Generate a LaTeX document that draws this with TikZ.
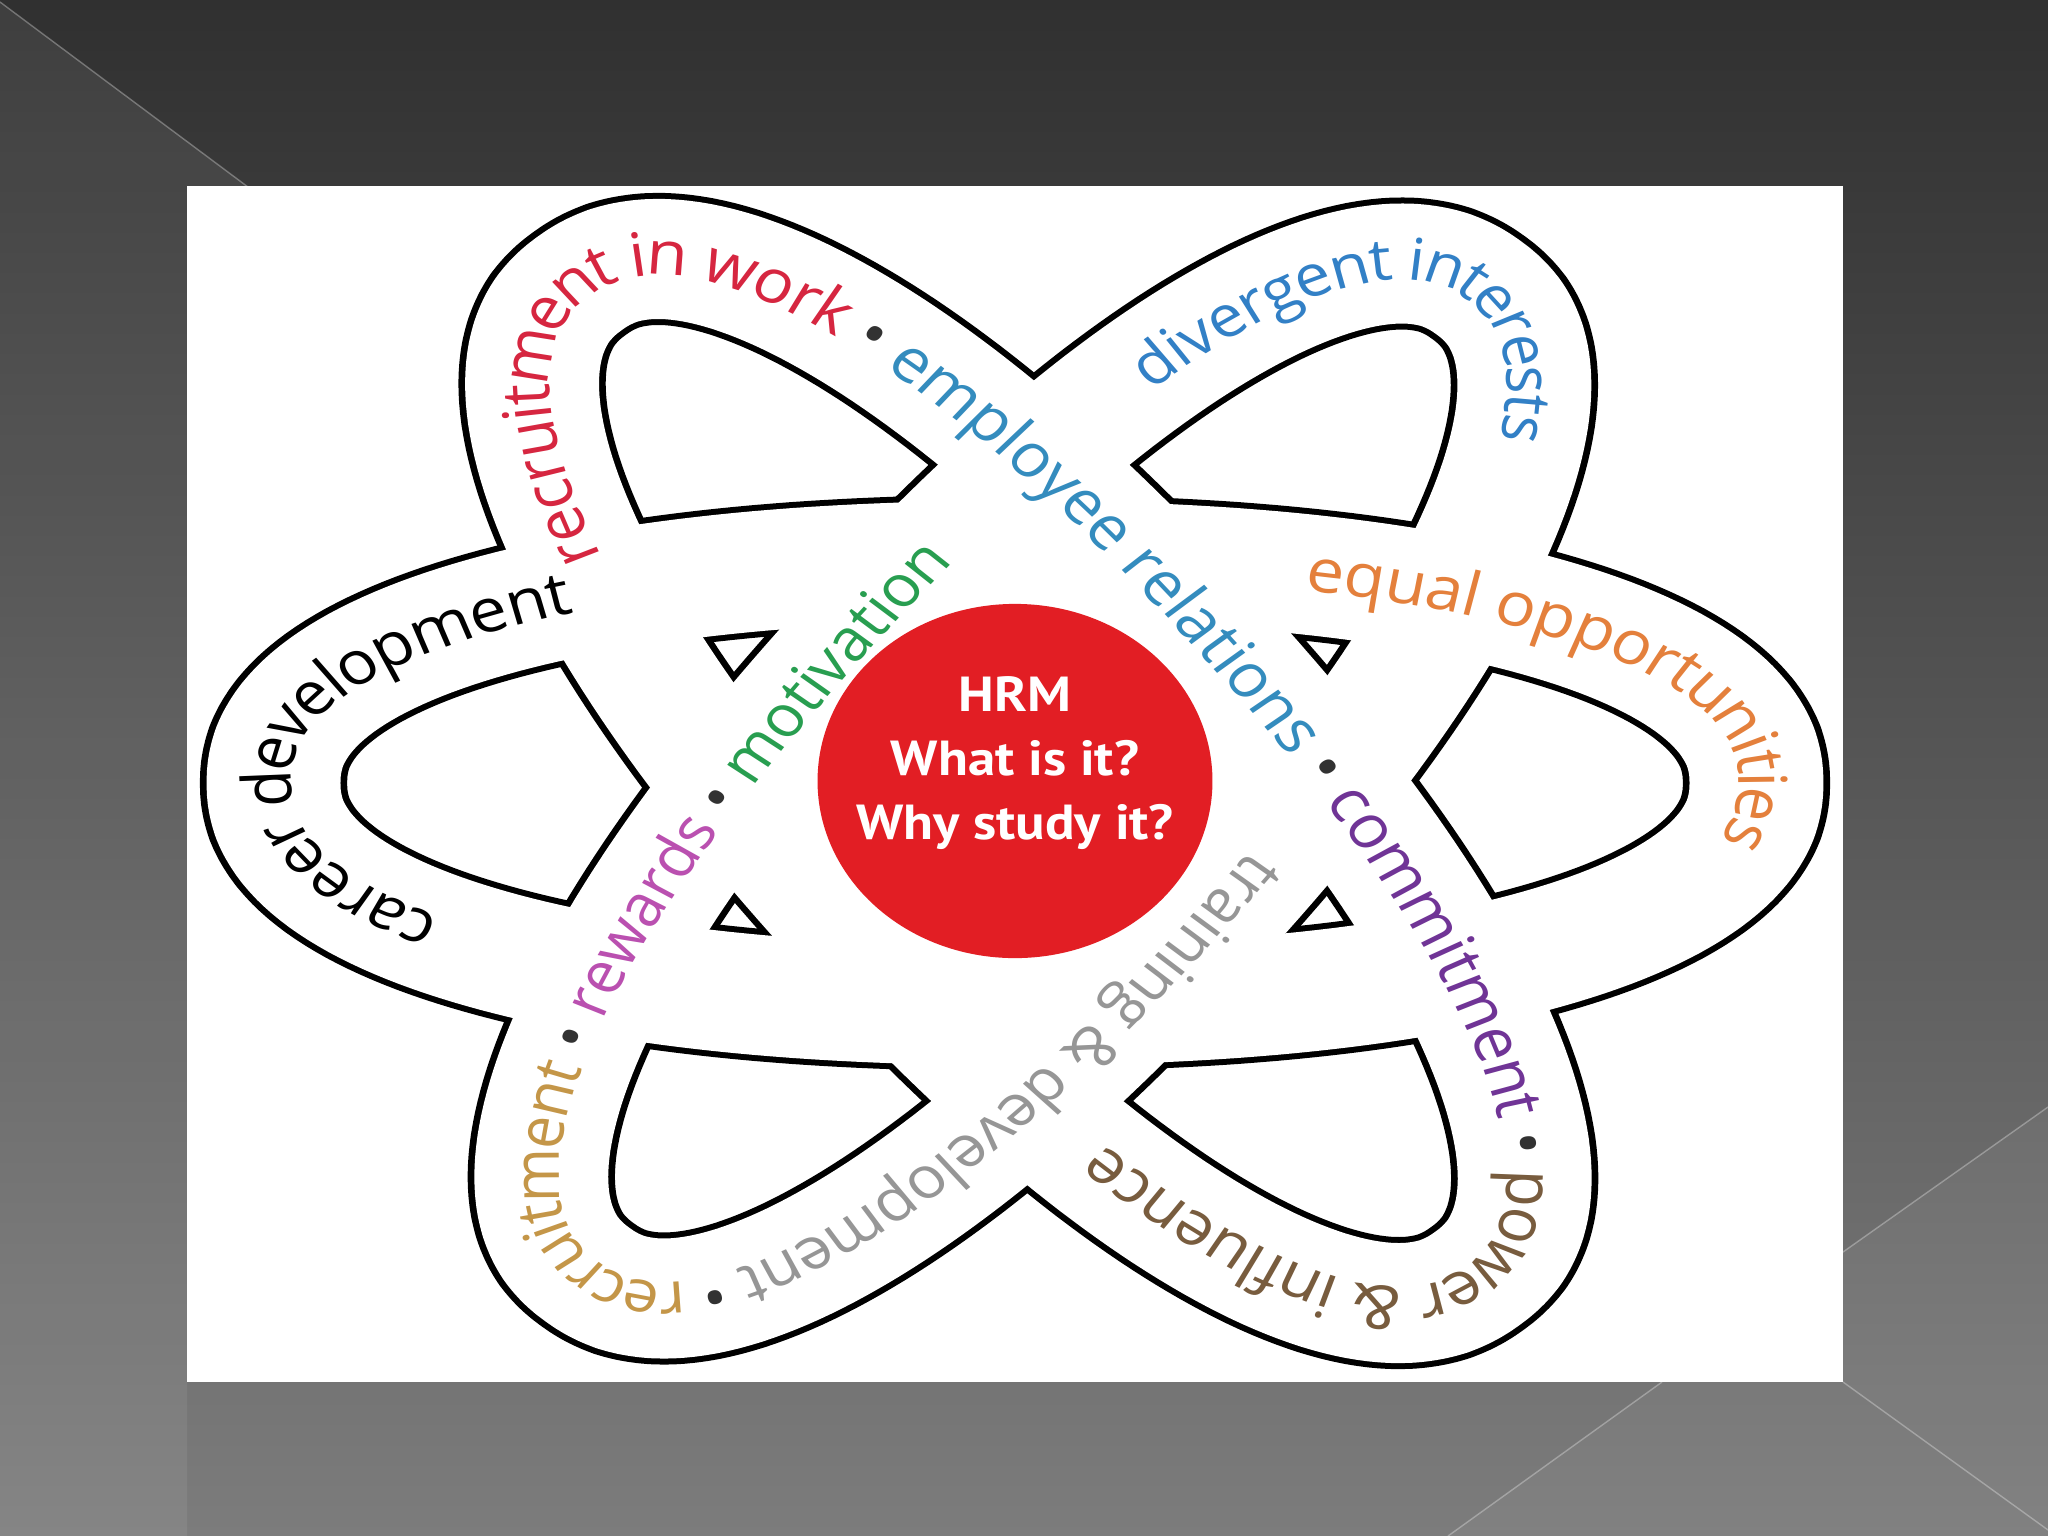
\documentclass[tikz,border=0pt]{standalone}
\usepackage{fontspec}
\setmainfont{Open Sans}
\newfontfamily\hrmfont{PT Sans}
\usetikzlibrary{decorations.text}

\definecolor{bgtop}{RGB}{48,48,48}
\definecolor{bgbottom}{RGB}{124,124,124}
\definecolor{hrmred}{RGB}{226,30,36}
\definecolor{recred}{RGB}{214,38,64}
\definecolor{empblue}{RGB}{52,140,190}
\definecolor{commpurple}{RGB}{112,52,150}
\definecolor{powbrown}{RGB}{120,92,62}
\definecolor{divblue}{RGB}{50,128,198}
\definecolor{eqorange}{RGB}{228,128,60}
\definecolor{traingray}{RGB}{150,150,150}
\definecolor{recgold}{RGB}{196,150,72}
\definecolor{rewpink}{RGB}{186,80,176}
\definecolor{motgreen}{RGB}{40,158,80}
\definecolor{dotgray}{RGB}{50,50,50}

\newcommand{\bandfont}{\fontsize{16.5}{19}\selectfont}
\newcommand{\widebandfont}{\fontsize{17.2}{20}\selectfont}

\begin{document}
\begin{tikzpicture}[x=0.01cm, y=-0.01cm,
    declare function={
      sux(\s)=sign(cos(\s))*pow(abs(cos(\s))+0.00001,0.909);
      suy(\s)=sign(sin(\s))*pow(abs(sin(\s))+0.00001,0.909);
      bandx(\s,\ha,\hb,\rr)=\ha*sux(\s)*cos(\rr)-\hb*suy(\s)*sin(\rr);
      bandy(\s,\ha,\hb,\rr)=\ha*sux(\s)*sin(\rr)+\hb*suy(\s)*cos(\rr);
    },
    band line/.style={line width=1.32cm, line join=round, draw=black},
    band fill/.style={line width=1.2cm, line join=round, draw=white},
    band text/.style={decorate, decoration={text along path, raise=-0.16cm, text={#1}}}]
  \useasboundingbox (0,0) rectangle (2048,1536);
  \shade[top color=bgtop, bottom color=bgbottom] (0,0) rectangle (2048,1536);
  \fill[white, opacity=0.07] (0,2) -- (248,187) -- (187,187) -- (187,1536) -- (0,1536) -- cycle;
  \fill[white, opacity=0.05] (1843,1252) -- (2048,1107) -- (2048,1530) -- (1843,1382) -- cycle;
  \fill[white, opacity=0.04] (1448,1536) -- (1662,1382) -- (1843,1382) -- (2048,1530) -- (2048,1536) -- cycle;
  \draw[white, opacity=0.3, line width=0.4pt] (0,2) -- (248,187) (1843,1252) -- (2048,1107)
    (1662,1382) -- (1448,1536) (1843,1382) -- (2048,1530);
  \fill[white] (187,186) rectangle (1843,1382);

  \begin{scope}[transform canvas={shift={(1015,781)}, xscale=1.115}]
    \foreach \rot/\lena/\lenb/\cx/\cy in {0/665/222/0/2, 51/640/216/12/0, -51/635/212/16/0}
      \path[band line] plot[domain=0:360, samples=241] ({\cx+bandx(\x,\lena,\lenb,\rot)},{\cy+bandy(\x,\lena,\lenb,\rot)}) -- cycle;
    \foreach \rot/\lena/\lenb/\cx/\cy in {0/665/222/0/2, 51/640/216/12/0, -51/635/212/16/0}
      \path[band fill] plot[domain=0:360, samples=241] ({\cx+bandx(\x,\lena,\lenb,\rot)},{\cy+bandy(\x,\lena,\lenb,\rot)}) -- cycle;

    \fill[white] (0,0) circle[radius=225];
    \node[circle, fill=hrmred, minimum size=3.54cm, inner sep=0pt] (nucleus) at (0,0) {};
    \node[align=center, text=white, font=\hrmfont\bfseries\fontsize{14}{18.2}\selectfont] (hrm) at (0,-18)
      {HRM\\What is it?\\Why study it?};

    \path[band text={|\widebandfont\color{recred}|recruitment in work |\widebandfont\color{dotgray}|• |\widebandfont\color{empblue}|employee relations |\widebandfont\color{dotgray}|• |\widebandfont\color{commpurple}|commitment |\widebandfont\color{dotgray}|• |\widebandfont\color{powbrown}|power {\&} influence}]
      plot[domain=129:440, samples=300] ({12+bandx(\x,640,216,51)},{bandy(\x,640,216,51)});
    \path[band text={|\bandfont\color{divblue}|divergent interests}]
      plot[domain=304:420, samples=150] ({16+bandx(\x,635,212,-51)},{bandy(\x,635,212,-51)});
    \path[band text={|\bandfont\color{traingray}|training {\&} development |\bandfont\color{dotgray}|• |\bandfont\color{recgold}|recruitment |\bandfont\color{dotgray}|• |\bandfont\color{rewpink}|rewards |\bandfont\color{dotgray}|• |\bandfont\color{motgreen}|motivation}]
      plot[domain=85:300, samples=300] ({16+bandx(\x,635,212,-51)},{bandy(\x,635,212,-51)});
    \path[band text={|\widebandfont\color{black}|career development}]
      plot[domain=140:265, samples=150] ({bandx(\x,665,222,0)},{2+bandy(\x,665,222,0)});
    \path[band text={|\widebandfont\color{eqorange}|equal opportunities}]
      plot[domain=291:400, samples=150] ({bandx(\x,665,222,0)},{2+bandy(\x,665,222,0)});
  \end{scope}
\end{tikzpicture}
\end{document}
